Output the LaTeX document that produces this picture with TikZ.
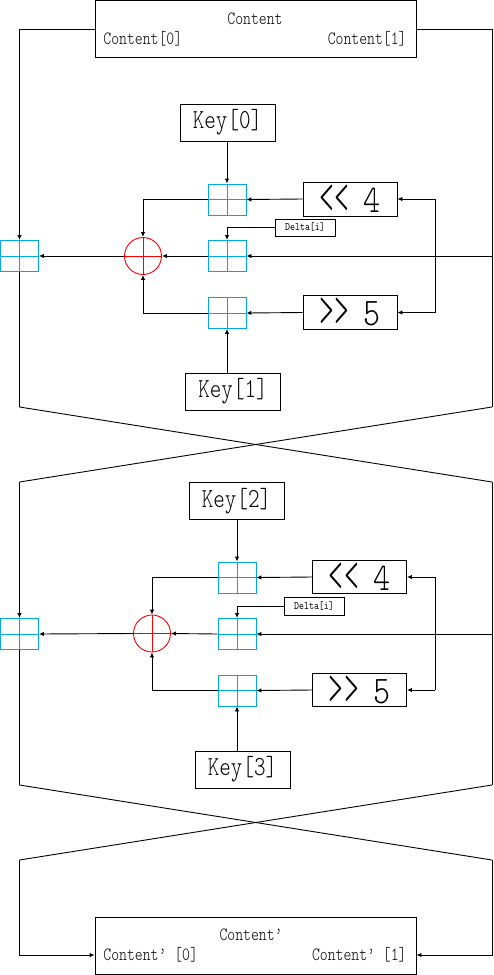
\documentclass[tikz,border=0pt]{standalone}
\usepackage{fontspec}
\newfontfamily\lmono{Latin Modern Mono Light}
\usetikzlibrary{arrows.meta,calc}
\definecolor{cy}{HTML}{00A8E8}
\newcommand\tallt[2][1.25]{\scalebox{1}[#1]{#2}}
\newcommand\chev[1]{\raisebox{-0.12em}{\scalebox{1.05}[1.9]{#1}}}
\newcommand\shtext[2]{\chev{#1}\hspace{0.5pt}\chev{#1}\hspace{14pt}\raisebox{-0.08em}{\scalebox{1.2}[1.45]{#2}}}
\tikzset{
  arr/.style={-{Latex[length=5pt,width=4.5pt]}},
  xbox/.style={draw=cy, minimum width=38pt, minimum height=31pt, inner sep=0pt,
    path picture={\draw[cy] (path picture bounding box.north) -- (path picture bounding box.south)
      (path picture bounding box.west) -- (path picture bounding box.east);}},
  xorc/.style={circle, draw=red, minimum size=37pt, inner sep=0pt,
    path picture={\draw[red] (path picture bounding box.north) -- (path picture bounding box.south)
      (path picture bounding box.west) -- (path picture bounding box.east);}},
  plainbox/.style={draw, inner sep=0pt},
  keybox/.style={plainbox, minimum width=95pt, minimum height=37pt, font=\lmono\fontsize{22}{24}\selectfont},
  shbox/.style={plainbox, minimum width=94pt, minimum height=34pt, font=\lmono\fontsize{27}{30}\selectfont},
  deltabox/.style={plainbox, minimum width=60pt, minimum height=17pt, font=\ttfamily\fontsize{9.5}{10}\selectfont},
  contbox/.style={plainbox, minimum width=321pt, minimum height=57pt},
  ctext/.style={inner sep=0pt, font=\lmono\fontsize{15}{16}\selectfont},
}
\begin{document}
\begin{tikzpicture}[x=1pt,y=-1pt,line width=0.9pt]
\useasboundingbox (0,0) rectangle (493,975);
% top content box
\node[contbox] (cin) at (255.5,29) {};
\node[ctext] (cint) at (255,19) {\tallt{Content}};
\node[ctext,anchor=west] (cin0) at (103,38.5) {\tallt{Content[0]}};
\node[ctext,anchor=east] (cin1) at (407,38.5) {\tallt{Content[1]}};

% ---------- round 1 ----------
\node[xbox] (L1) at (19.5,256) {};
\node[xbox] (T1) at (227,199.5) {};
\node[xbox] (M1) at (227,256) {};
\node[xbox] (B1) at (227,313) {};
\node[xorc] (X1) at (143,256) {};
\node[keybox] (K0) at (227.5,122.5) {\tallt{Key[0]}};
\node[keybox] (K1) at (233,391.5) {\tallt{Key[1]}};
\node[shbox] (S4a) at (350,199) {\shtext{<}{4}};
\node[shbox] (S5a) at (350,312.5) {\shtext{>}{5}};
\node[deltabox] (D1) at (305,227.5) {\tallt[1.2]{Delta[i]}};
\coordinate (r1) at (492,256);
\coordinate (b1t) at (435,199);
\coordinate (b1b) at (435,312.5);
\coordinate (e1L) at (19.5,407);
\coordinate (e1R) at (492,407);

\draw[arr] (cin.west) -| (L1.north);
\draw (cin.east) -| (e1R);
\draw[arr] (T1.north |- K0.south) -- (T1.north);
\draw[arr] (B1.south |- K1.north) -- (B1.south);
\draw[arr] (D1.west) -| (M1.north);
\draw[arr] (r1) -- (M1.east);
\draw (b1t) -- (b1b);
\draw[arr] (b1t) -- (S4a.east);
\draw[arr] (b1b) -- (S5a.east);
\draw[arr] (S4a.west) -- (T1.east);
\draw[arr] (S5a.west) -- (B1.east);
\draw[arr] (T1.west) -| (X1.north);
\draw[arr] (M1.west) -- (X1.east);
\draw[arr] (B1.west) -| (X1.south);
\draw[arr] (X1.west) -- (L1.east);
\draw (L1.south) -- (e1L);

% crossing 1
\coordinate (s2L) at (19.5,482);
\coordinate (s2R) at (492,482);
\draw (e1L) -- (s2R);
\draw (e1R) -- (s2L);

% ---------- round 2 ----------
\node[xbox] (L2) at (19.5,634) {};
\node[xbox] (T2) at (237,577.5) {};
\node[xbox] (M2) at (237,634) {};
\node[xbox] (B2) at (237,690.5) {};
\node[xorc] (X2) at (152,633.5) {};
\node[keybox] (K2) at (236.5,501) {\tallt{Key[2]}};
\node[keybox] (K3) at (242.5,769.5) {\tallt{Key[3]}};
\node[shbox, minimum height=33pt] (S4b) at (359.5,577) {\shtext{<}{4}};
\node[shbox, minimum height=33pt] (S5b) at (359.5,690) {\shtext{>}{5}};
\node[deltabox, minimum height=18pt] (D2) at (314,606) {\tallt[1.2]{Delta[i]}};
\coordinate (r2) at (492,634);
\coordinate (b2t) at (435,577);
\coordinate (b2b) at (435,690);
\coordinate (e2L) at (19.5,785);
\coordinate (e2R) at (492,785);

\draw[arr] (s2L) -- (L2.north);
\draw (s2R) -- (e2R);
\draw[arr] (T2.north |- K2.south) -- (T2.north);
\draw[arr] (B2.south |- K3.north) -- (B2.south);
\draw[arr] (D2.west) -| (M2.north);
\draw[arr] (r2) -- (M2.east);
\draw (b2t) -- (b2b);
\draw[arr] (b2t) -- (S4b.east);
\draw[arr] (b2b) -- (S5b.east);
\draw[arr] (S4b.west) -- (T2.east);
\draw[arr] (S5b.west) -- (B2.east);
\draw[arr] (T2.west) -| (X2.north);
\draw[arr] (M2.west) -- (X2.east);
\draw[arr] (B2.west) -| (X2.south);
\draw[arr] (X2.west) -- (L2.east);
\draw (L2.south) -- (e2L);

% crossing 2
\coordinate (s3L) at (19.5,860);
\coordinate (s3R) at (492,860);
\draw (e2L) -- (s3R);
\draw (e2R) -- (s3L);

% output box
\node[contbox] (cout) at (255.5,945.5) {};
\node[ctext] (coutt) at (251,935) {\tallt{Content’}};
\node[ctext,anchor=west] (cout0) at (103,955) {\tallt{Content’ [0]}};
\node[ctext,anchor=east] (cout1) at (407,955) {\tallt{Content’ [1]}};
\draw[arr] (s3L) |- ([yshift=-9.5pt]cout.west);
\draw[arr] (s3R) |- ([yshift=-9.5pt]cout.east);
\end{tikzpicture}
\end{document}
